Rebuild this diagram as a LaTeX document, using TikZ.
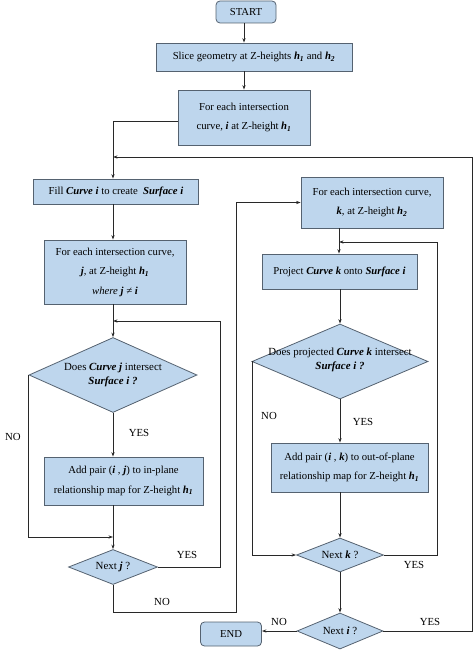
\documentclass[tikz,border=0pt]{standalone}
\usepackage{fontspec}
\setmainfont{Liberation Serif}
\usetikzlibrary{shapes.geometric,arrows.meta}
\newcommand{\bfit}[1]{\textbf{\textit{#1}}}
\definecolor{boxfill}{RGB}{190,214,237}
\definecolor{boxline}{RGB}{85,98,112}
\definecolor{conn}{RGB}{40,40,40}
\begin{document}
\begin{tikzpicture}[x=1pt,y=-1pt,
  box/.style={draw=boxline,fill=boxfill,line width=0.8pt,inner sep=0pt,align=center,font=\fontsize{10.7}{19.5}\selectfont},
  term/.style={box,rounded corners=4pt},
  dia/.style={diamond,draw=boxline,fill=boxfill,line width=0.8pt,inner sep=0pt},
  diatext/.style={align=center,font=\fontsize{10.9}{14}\selectfont,inner sep=0pt},
  lab/.style={font=\fontsize{10.8}{12}\selectfont,inner sep=0pt},
  conn/.style={draw=conn,line width=0.8pt},
  arr/.style={conn,-{Stealth[length=4.5pt,width=3.2pt]}}
]
\useasboundingbox (0,0) rectangle (474,650);
% nodes
\node[term,minimum width=60pt,minimum height=22pt] (start) at (246,12) {START};
\node[box,minimum width=196pt,minimum height=28pt] (slice) at (254,57) {Slice geometry at Z-heights \bfit{h\textsubscript{1}} and \bfit{h\textsubscript{2}}};
\node[box,minimum width=132pt,minimum height=55pt] (fei) at (244,117.5) {For each intersection\\curve, \bfit{i} at Z-height \bfit{h\textsubscript{1}}};
\node[box,minimum width=165pt,minimum height=25pt] (fill) at (116,191.5) {Fill \bfit{Curve i} to create \ \bfit{Surface i}};
\node[box,minimum width=142pt,minimum height=64pt] (fej) at (115,272) {For each intersection curve,\\\bfit{j}, at Z-height \bfit{h\textsubscript{1}}\\\textit{where \textbf{j} ≠ \textbf{i}}};
\node[dia,minimum width=168pt,minimum height=75pt] (d1) at (113,375) {};
\node[diatext] at (d1) {Does \bfit{Curve j} intersect\\\bfit{Surface i ?}};
\node[box,minimum width=159pt,minimum height=48pt] (addj) at (123.5,481) {Add pair (\bfit{i} , \bfit{j}) to in-plane\\relationship map for Z-height \bfit{h\textsubscript{1}}};
\node[dia,minimum width=89pt,minimum height=35pt] (nj) at (113,567) {};
\node[diatext] at (nj) {Next \bfit{j} ?};
\node[box,minimum width=142pt,minimum height=51pt] (fek) at (372,202.5) {For each intersection curve,\\\bfit{k}, at Z-height \bfit{h\textsubscript{2}}};
\node[box,minimum width=155pt,minimum height=35pt] (proj) at (339.5,271.5) {Project \bfit{Curve k} onto \bfit{Surface i}};
\node[dia,minimum width=176pt,minimum height=75pt] (d2) at (340,361.5) {};
\node[diatext] at ([yshift=2pt]d2.center) {Does projected \bfit{Curve k} intersect\\\bfit{Surface i ?}};
\node[box,minimum width=157pt,minimum height=49pt] (addk) at (349.5,467.5) {Add pair (\bfit{i} , \bfit{k}) to out-of-plane\\relationship map for Z-height \bfit{h\textsubscript{1}}};
\node[dia,minimum width=87pt,minimum height=34pt] (nk) at (340,555) {};
\node[diatext] at (nk) {Next \bfit{k} ?};
\node[dia,minimum width=86pt,minimum height=36pt] (ni) at (340,631) {};
\node[diatext] at (ni) {Next \bfit{i} ?};
\node[term,minimum width=61pt,minimum height=24pt] (end) at (231,634) {END};
% helper coordinates
\coordinate (ls) at (113,0);
\coordinate (rs) at (339,0);
\coordinate (mi) at (113,157);
\coordinate (mj) at (113,321);
\coordinate (mk) at (339,242);
\coordinate (rx) at (472,0);
\coordinate (jx) at (220,0);
\coordinate (kx) at (437,0);
\coordinate (nx) at (236,0);
\coordinate (nl) at (28,0);
\coordinate (kl) at (252,0);
% connectors
\draw[arr] (start.south -| fei.north) -- (fei.north |- slice.north);
\draw[arr] (slice.south -| fei.north) -- (fei.north);
\draw[arr] (fei.west |- 0,121) -| (ls |- fill.north);
\draw[arr] (fill.south -| ls) -- (ls |- fej.north);
\draw[arr] (fej.south -| ls) -- (d1.north);
\draw[arr] (d1.south) -- (d1.south |- addj.north);
\draw[arr] (addj.south -| nj.north) -- (nj.north);
\draw[arr] (d1.west) -| (nl |- 0,537) -- (nj.north |- 0,537);
\draw[arr] (nj.east) -| (jx |- mj) -- (mj);
\draw[arr] (nj.south) -- (nj.south |- 0,612) -| (nx |- fek.west) -- (fek.west);
\draw[arr] (fek.south -| rs) -- (rs |- proj.north);
\draw[arr] (proj.south -| d2.north) -- (d2.north);
\draw[arr] (d2.south) -- (d2.south |- addk.north);
\draw[arr] (addk.south -| nk.north) -- (nk.north);
\draw[arr] (d2.west) -| (kl |- nk.west) -- (nk.west);
\draw[arr] (nk.east) -| (kx |- mk) -- (mk);
\draw[arr] (nk.south) -- (ni.north);
\draw[arr] (ni.west) -- (end.east |- ni.west);
\draw[arr] (ni.east) -| (rx |- mi) -- (mi);
% labels
\node[lab] at (13,437) {NO};
\node[lab] at (139,433) {YES};
\node[lab] at (187,555) {YES};
\node[lab] at (162,602) {NO};
\node[lab] at (269,416) {NO};
\node[lab] at (363,422) {YES};
\node[lab] at (414,565) {YES};
\node[lab] at (279,622) {NO};
\node[lab] at (430,622) {YES};
\end{tikzpicture}
\end{document}
